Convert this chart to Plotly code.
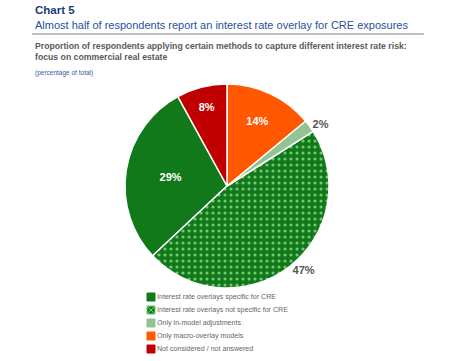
import plotly.graph_objects as go

# ---- data (legend order) ----
labels = [
    "Interest rate overlays specific for CRE",
    "Interest rate overlays not specific for CRE",
    "Only in-model adjustments",
    "Only macro-overlay models",
    "Not considered / not answered",
]
values = [29, 47, 2, 14, 8]
colors = ["#11791a", "#11791a", "#93c293", "#ff5800", "#c00000"]
patterns = ["", ".", "", "", ""]
text_pos = ["inside", "outside", "outside", "inside", "inside"]

title1 = "Chart 5"
title2 = "Almost half of respondents report an interest rate overlay for CRE exposures"
title3 = ("Proportion of respondents applying certain methods to capture different interest rate risk:"
          "<br>focus on commercial real estate")
units = "(percentage of total)"

W, H = 474, 361
FONT = "Arial, Liberation Sans, sans-serif"
DOT = "#74c874"

fig = go.Figure()

fig.add_trace(go.Pie(
    labels=labels,
    values=values,
    sort=False,
    direction="counterclockwise",
    rotation=226.8,
    marker=dict(
        colors=colors,
        line=dict(color="white", width=1.5),
        pattern=dict(shape=patterns, fgcolor=DOT, bgcolor=colors,
                     fgopacity=1, size=6, solidity=0.22, fillmode="replace"),
    ),
    texttemplate="%{value}%",
    textposition=text_pos,
    insidetextfont=dict(color="white", size=11, family=FONT, weight="bold"),
    outsidetextfont=dict(color="#555555", size=11, family=FONT, weight="bold"),
    domain=dict(x=[(227 - 102) / W, (227 + 102) / W], y=[(H - 186 - 102) / H, (H - 186 + 102) / H]),
    showlegend=False,
    hoverinfo="label+value",
))

# ---- custom legend drawn on an overlay axis (one row per category) ----
legend_x0 = 151
legend_y0 = 297
legend_dy = 13
lx = [legend_x0] * len(labels)
ly = [legend_y0 + legend_dy * i for i in range(len(labels))]
symbols = ["square-x" if p else "square" for p in patterns]
line_cols = [DOT if p else c for p, c in zip(patterns, colors)]
fig.add_trace(go.Scatter(
    x=lx, y=ly, mode="markers+text",
    marker=dict(symbol=symbols, size=8, color=colors, line=dict(color=line_cols, width=1)),
    text=labels,
    textposition="middle right",
    textfont=dict(size=7.1, color="#666666", family=FONT),
    xaxis="x", yaxis="y", showlegend=False, hoverinfo="skip", cliponaxis=False,
))

fig.update_layout(
    width=W, height=H,
    margin=dict(l=0, r=0, t=0, b=0),
    paper_bgcolor="white", plot_bgcolor="rgba(0,0,0,0)",
    xaxis=dict(range=[0, W], visible=False, domain=[0, 1], fixedrange=True),
    yaxis=dict(range=[H, 0], visible=False, domain=[0, 1], fixedrange=True),
    font=dict(family=FONT),
)

def ann(text, y_px, size, color, bold=False):
    fig.add_annotation(
        x=33 / W, y=1 - y_px / H, xref="paper", yref="paper",
        xanchor="left", yanchor="top", showarrow=False, align="left",
        text=("<b>%s</b>" % text) if bold else text,
        font=dict(size=size, color=color, family=FONT),
    )

ann(title1, 2, 11.5, "#1d3c78", bold=True)
ann(title2, 17, 11, "#2a4f9c")
ann(title3, 39, 8.7, "#5a5a5a", bold=True)
ann(units, 67, 6.5, "#3a5aa0")

fig.add_shape(type="line", xref="paper", yref="paper",
              x0=32 / W, x1=424 / W, y0=1 - 34 / H, y1=1 - 34 / H,
              line=dict(color="#7f7f7f", width=1))

fig.write_html("out.html", config={"displayModeBar": False},
               post_script="document.body.style.margin='0';")
